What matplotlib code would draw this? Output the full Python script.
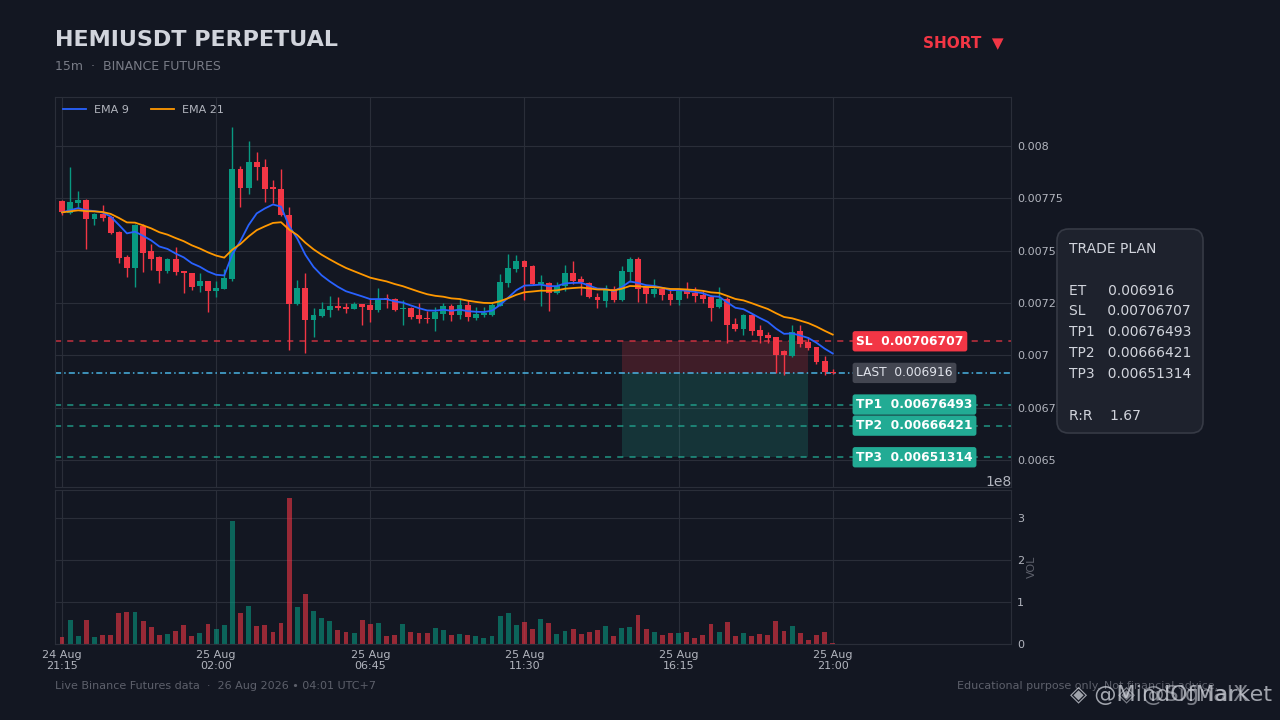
import matplotlib
matplotlib.use("Agg")
import matplotlib.pyplot as plt
import numpy as np
import pandas as pd
from matplotlib.patches import FancyBboxPatch
from matplotlib.ticker import FuncFormatter

# 15m candles, 24 Aug 21:15 -> 25 Aug 21:00
opens = [0.007737, 0.007681, 0.007729, 0.007742, 0.007651, 0.007674, 0.007661, 0.007591, 0.007471, 0.007419,
         0.007618, 0.007498, 0.007471, 0.007404, 0.007462, 0.007403, 0.007393, 0.007333, 0.007355, 0.007309,
         0.007318, 0.007365, 0.007890, 0.007801, 0.007924, 0.007900, 0.007804, 0.007795, 0.007670, 0.007245,
         0.007322, 0.007169, 0.007188, 0.007216, 0.007236, 0.007233, 0.007221, 0.007245, 0.007240, 0.007216,
         0.007274, 0.007270, 0.007220, 0.007227, 0.007193, 0.007180, 0.007173, 0.007197, 0.007236, 0.007193,
         0.007240, 0.007180, 0.007193, 0.007193, 0.007237, 0.007347, 0.007414, 0.007451, 0.007427, 0.007341,
         0.007344, 0.007296, 0.007333, 0.007395, 0.007365, 0.007344, 0.007279, 0.007261, 0.007315, 0.007264,
         0.007400, 0.007460, 0.007328, 0.007293, 0.007315, 0.007293, 0.007264, 0.007312, 0.007299, 0.007288,
         0.007280, 0.007232, 0.007269, 0.007150, 0.007124, 0.007193, 0.007121, 0.007097, 0.007086, 0.007020,
         0.006997, 0.007118, 0.007065, 0.007038, 0.006973, 0.006920]
highs = [0.007740, 0.007901, 0.007785, 0.007748, 0.007681, 0.007717, 0.007664, 0.007593, 0.007481, 0.007626,
         0.007627, 0.007532, 0.007474, 0.007464, 0.007519, 0.007405, 0.007395, 0.007395, 0.007357, 0.007356,
         0.007414, 0.008089, 0.007906, 0.008025, 0.007970, 0.007939, 0.007838, 0.007892, 0.007710, 0.007360,
         0.007392, 0.007225, 0.007253, 0.007283, 0.007277, 0.007248, 0.007253, 0.007247, 0.007272, 0.007320,
         0.007291, 0.007275, 0.007264, 0.007232, 0.007248, 0.007212, 0.007232, 0.007248, 0.007246, 0.007269,
         0.007264, 0.007232, 0.007232, 0.007248, 0.007388, 0.007483, 0.007479, 0.007455, 0.007430, 0.007384,
         0.007350, 0.007352, 0.007431, 0.007452, 0.007380, 0.007352, 0.007296, 0.007336, 0.007331, 0.007427,
         0.007468, 0.007468, 0.007331, 0.007365, 0.007328, 0.007312, 0.007320, 0.007349, 0.007328, 0.007312,
         0.007288, 0.007328, 0.007277, 0.007177, 0.007197, 0.007197, 0.007145, 0.007113, 0.007089, 0.007025,
         0.007145, 0.007145, 0.007081, 0.007041, 0.006998, 0.006933]
lows = [0.007670, 0.007675, 0.007710, 0.007506, 0.007621, 0.007640, 0.007580, 0.007442, 0.007376, 0.007328,
        0.007397, 0.007408, 0.007347, 0.007395, 0.007382, 0.007299, 0.007312, 0.007304, 0.007208, 0.007280,
        0.007317, 0.007355, 0.007707, 0.007771, 0.007836, 0.007734, 0.007726, 0.007665, 0.007025, 0.007239,
        0.007009, 0.007086, 0.007182, 0.007184, 0.007216, 0.007201, 0.007220, 0.007143, 0.007160, 0.007208,
        0.007225, 0.007213, 0.007143, 0.007172, 0.007153, 0.007153, 0.007116, 0.007169, 0.007164, 0.007173,
        0.007164, 0.007169, 0.007184, 0.007190, 0.007235, 0.007325, 0.007399, 0.007264, 0.007336, 0.007236,
        0.007212, 0.007291, 0.007307, 0.007339, 0.007288, 0.007272, 0.007225, 0.007229, 0.007253, 0.007259,
        0.007352, 0.007256, 0.007248, 0.007280, 0.007264, 0.007240, 0.007240, 0.007272, 0.007256, 0.007248,
        0.007165, 0.007225, 0.007057, 0.007118, 0.007097, 0.007097, 0.007057, 0.007057, 0.006915, 0.006906,
        0.006990, 0.007041, 0.007025, 0.006958, 0.006908, 0.006911]
closes = [0.007683, 0.007734, 0.007742, 0.007651, 0.007675, 0.007656, 0.007584, 0.007466, 0.007419, 0.007623,
          0.007490, 0.007462, 0.007404, 0.007462, 0.007398, 0.007395, 0.007328, 0.007355, 0.007309, 0.007323,
          0.007369, 0.007890, 0.007801, 0.007924, 0.007901, 0.007796, 0.007796, 0.007670, 0.007244, 0.007320,
          0.007169, 0.007193, 0.007221, 0.007236, 0.007225, 0.007221, 0.007245, 0.007232, 0.007216, 0.007270,
          0.007268, 0.007216, 0.007227, 0.007184, 0.007173, 0.007172, 0.007208, 0.007236, 0.007193, 0.007240,
          0.007182, 0.007197, 0.007201, 0.007240, 0.007350, 0.007416, 0.007451, 0.007423, 0.007341, 0.007350,
          0.007299, 0.007333, 0.007395, 0.007356, 0.007349, 0.007277, 0.007263, 0.007312, 0.007264, 0.007403,
          0.007460, 0.007317, 0.007293, 0.007317, 0.007288, 0.007264, 0.007315, 0.007293, 0.007285, 0.007269,
          0.007227, 0.007269, 0.007145, 0.007124, 0.007193, 0.007118, 0.007094, 0.007084, 0.007001, 0.007001,
          0.007113, 0.007054, 0.007036, 0.006969, 0.006920, 0.006916]
volumes = [16.7, 57.1, 19.0, 57.1, 16.7, 21.4, 21.4, 73.8, 76.2, 76.2,
           54.8, 40.5, 21.4, 23.8, 31.0, 45.2, 19.0, 26.2, 47.6, 35.7,
           45.2, 292.9, 73.8, 90.5, 42.9, 45.2, 28.6, 50.0, 347.6, 88.1,
           119.0, 78.6, 61.9, 54.8, 33.3, 28.6, 26.2, 57.1, 47.6, 50.0,
           19.0, 21.4, 47.6, 28.6, 26.2, 26.2, 38.1, 33.3, 21.4, 23.8,
           21.4, 19.0, 14.3, 19.0, 66.7, 73.8, 45.2, 52.4, 35.7, 59.5,
           50.0, 23.8, 31.0, 35.7, 23.8, 28.6, 33.3, 42.9, 19.0, 38.1,
           40.5, 69.0, 35.7, 28.6, 21.4, 26.2, 26.2, 28.6, 14.3, 21.4,
           47.6, 28.6, 52.4, 19.0, 26.2, 19.0, 23.8, 21.4, 54.8, 31.0,
           42.9, 26.2, 9.5, 21.4, 28.6, 2.4]  # millions

tick_idx = [0, 19, 38, 57, 76, 95]
tick_labels = ["24 Aug\n21:15", "25 Aug\n02:00", "25 Aug\n06:45", "25 Aug\n11:30", "25 Aug\n16:15", "25 Aug\n21:00"]

entry = 0.006916
sl = 0.00706707
tps = [0.00676493, 0.00666421, 0.00651314]
rr = 1.67
zone_start, zone_end = 69, 92

BG = "#131722"
GRID = "#2a2e39"
TXT = "#b2b5be"
DIM = "#5d606b"
GREEN = "#089981"
RED = "#f23645"
TEAL = "#22ab94"

o = np.array(opens)
h = np.array(highs)
l = np.array(lows)
c = np.array(closes)
v = np.array(volumes) * 1e6
x = np.arange(len(c))
cols = np.where(c >= o, GREEN, RED)

ema9 = pd.Series(c).ewm(span=9, adjust=False).mean()
ema21 = pd.Series(c).ewm(span=21, adjust=False).mean()

fig = plt.figure(figsize=(12.8, 7.2), dpi=100, facecolor=BG)
ax = fig.add_axes([0.043, 0.3236, 0.747, 0.5417], facecolor=BG)
axv = fig.add_axes([0.043, 0.1056, 0.747, 0.2139], facecolor=BG, sharex=ax)

for a in (ax, axv):
    for s in a.spines.values():
        s.set_color(GRID)
    a.grid(True, color=GRID, lw=0.8)
    a.set_axisbelow(True)
    a.yaxis.tick_right()
    a.tick_params(length=0, colors=TXT, labelsize=8, pad=4)

# candles
ax.vlines(x, l, h, colors=cols, lw=1, zorder=3)
ax.bar(x, np.maximum(np.abs(c - o), 0.000004), bottom=np.minimum(o, c), width=0.72,
       color=cols, zorder=4)

ax.plot(x, ema9, color="#2962ff", lw=1.3, label="EMA 9", zorder=5)
ax.plot(x, ema21, color="#ff9800", lw=1.3, label="EMA 21", zorder=5)

# trade zones
ax.fill_between([zone_start, zone_end], entry, sl, color=RED, alpha=0.2, lw=0, zorder=1)
ax.fill_between([zone_start, zone_end], tps[2], entry, color=TEAL, alpha=0.2, lw=0, zorder=1)

ax.axhline(sl, color=RED, ls=(0, (4, 4)), lw=1.1, alpha=0.8, zorder=2)
ax.axhline(entry, color="#4fc3f7", ls=(0, (4, 2, 1, 2)), lw=1.1, alpha=0.9, zorder=2)
for tp in tps:
    ax.axhline(tp, color=TEAL, ls=(0, (4, 4)), lw=1.1, alpha=0.85, zorder=2)

lx = 97.9
ax.text(lx, sl, "SL  %.8f" % sl, color="white", fontsize=8.8, weight="bold", va="center", ha="left",
        bbox=dict(boxstyle="round,pad=0.3,rounding_size=0.2", fc=RED, ec="none"), zorder=6)
ax.text(lx, entry, "LAST  %.6f" % entry, color="#e0e3eb", fontsize=8.8, va="center", ha="left",
        bbox=dict(boxstyle="round,pad=0.3,rounding_size=0.2", fc="#434651", ec="none"), zorder=6)
for k, tp in enumerate(tps):
    ax.text(lx, tp, "TP%d  %.8f" % (k + 1, tp), color="white", fontsize=8.8, weight="bold",
            va="center", ha="left",
            bbox=dict(boxstyle="round,pad=0.3,rounding_size=0.2", fc=TEAL, ec="none"), zorder=6)

ax.set_xlim(-0.86, 117)
ax.set_ylim(0.006371, 0.008234)
ax.set_yticks([0.0065, 0.00675, 0.007, 0.00725, 0.0075, 0.00775, 0.008])
ax.yaxis.set_major_formatter(FuncFormatter(lambda val, p: "%g" % val))
ax.tick_params(labelbottom=False)
leg = ax.legend(loc="upper left", frameon=False, fontsize=8, labelcolor=TXT, handlelength=2.1,
                handletextpad=0.7, ncol=2, columnspacing=2.0, borderaxespad=0.3)

# volume
axv.bar(x, v, width=0.6, color=cols, alpha=0.6)
axv.set_ylim(0, 3.667e8)
axv.set_yticks([0, 1e8, 2e8, 3e8])
axv.yaxis.get_offset_text().set_color(TXT)
axv.yaxis.get_offset_text().set_fontsize(10)
axv.yaxis.set_label_position("right")
axv.set_ylabel("VOL", color=DIM, fontsize=8, labelpad=2)
axv.set_xticks(tick_idx)
axv.set_xticklabels(tick_labels)
axv.tick_params(axis="x", pad=4)

# header
fig.text(55 / 1280, 1 - 40 / 720, "HEMIUSDT PERPETUAL", color="#d1d4dc", fontsize=16, weight="bold",
         va="center", ha="left")
fig.text(55 / 1280, 1 - 66 / 720, "15m  ·  BINANCE FUTURES", color="#787b86", fontsize=9,
         va="center", ha="left")
fig.text(1004 / 1280, 1 - 43 / 720, "SHORT  ▼", color=RED, fontsize=11, weight="bold",
         va="center", ha="right")

# trade plan box
box = FancyBboxPatch((1057 / 1280, 1 - 433 / 720), 146 / 1280, 204 / 720,
                     boxstyle="round,pad=0,rounding_size=0.009", mutation_aspect=1280 / 720,
                     transform=fig.transFigure, fc="#1e222d", ec="#363a45", lw=1.2, zorder=10)
fig.patches.append(box)
plan = ("TRADE PLAN\n\n"
        "ET     %.6f\n"
        "SL     %.8f\n"
        "TP1   %.8f\n"
        "TP2   %.8f\n"
        "TP3   %.8f\n\n"
        "R:R    %.2f") % (entry, sl, tps[0], tps[1], tps[2], rr)
fig.text(1069 / 1280, 1 - 242 / 720, plan, color="#d1d4dc", fontsize=10, va="top", ha="left",
         linespacing=1.62, zorder=11)

# footer
fig.text(55 / 1280, 1 - 686 / 720, "Live Binance Futures data  ·  26 Aug 2026 • 04:01 UTC+7",
         color=DIM, fontsize=8, va="center", ha="left")
fig.text(1218 / 1280, 1 - 686 / 720, "Educational purpose only. Not financial advice.",
         color=DIM, fontsize=8, va="center", ha="right")
fig.text(1248 / 1280, 1 - 695 / 720, "◈ @SignalX", color="#d1d4dc", alpha=0.55, fontsize=16,
         va="center", ha="right")
fig.text(1272 / 1280, 1 - 695 / 720, "◈ @MindOfMarket", color="#d1d4dc", alpha=0.75, fontsize=16,
         va="center", ha="right")

fig.savefig("out.png", dpi=100, facecolor=BG)
